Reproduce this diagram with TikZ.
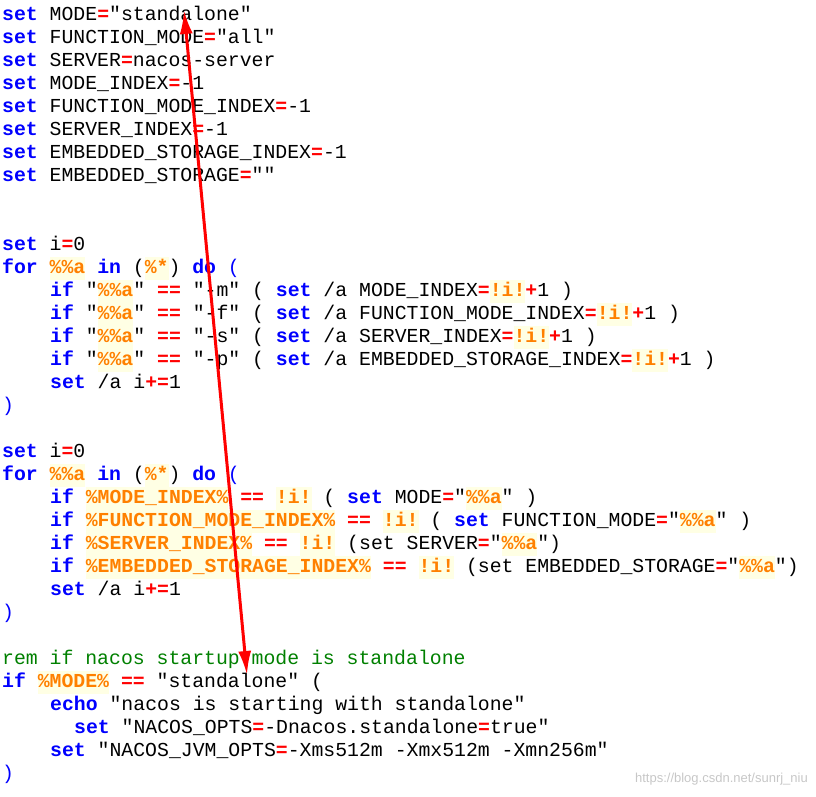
\documentclass[tikz,border=0pt]{standalone}
\usepackage{fontspec}
\usetikzlibrary{arrows.meta}
\newfontfamily\cf{Liberation Mono}
\definecolor{kwblue}{RGB}{0,0,255}
\definecolor{opred}{RGB}{255,0,0}
\definecolor{varor}{RGB}{255,128,0}
\definecolor{hlbg}{RGB}{255,255,228}
\definecolor{cmgreen}{RGB}{0,128,0}
\newcommand\K[1]{{\bfseries\color{kwblue}#1}}
\newcommand\Pb[1]{{\color{kwblue}#1}}
\newcommand\R[1]{{\bfseries\color{opred}#1}}
\newcommand\V[1]{{\fboxsep=0pt\colorbox{hlbg}{\strut\bfseries\color{varor}#1}}}
\begin{document}
\begin{tikzpicture}[x=1pt,y=-1pt,
  cl/.style={anchor=base west,inner sep=0pt,font=\cf\fontsize{19.8}{23}\selectfont}]
\useasboundingbox (0,0) rectangle (816,796);
\node[cl] (l1) at (2,20) {\K{set} MODE\R{=}"standalone"};
\node[cl] (l2) at (2,43) {\K{set} FUNCTION\_MODE\R{=}"all"};
\node[cl] (l3) at (2,66) {\K{set} SERVER\R{=}nacos-server};
\node[cl] (l4) at (2,89) {\K{set} MODE\_INDEX\R{=}-1};
\node[cl] (l5) at (2,112) {\K{set} FUNCTION\_MODE\_INDEX\R{=}-1};
\node[cl] (l6) at (2,135) {\K{set} SERVER\_INDEX\R{=}-1};
\node[cl] (l7) at (2,158) {\K{set} EMBEDDED\_STORAGE\_INDEX\R{=}-1};
\node[cl] (l8) at (2,181) {\K{set} EMBEDDED\_STORAGE\R{=}""};
\node[cl] (l9) at (2,250) {\K{set} i\R{=}0};
\node[cl] (l10) at (2,273) {\K{for} \V{\%\%a} \K{in} (\V{\%*}) \K{do} \Pb{(}};
\node[cl] (l11) at (50,296) {\K{if} "\V{\%\%a}" \R{==} "-m" ( \K{set} /a MODE\_INDEX\R{=}\V{!i!}\R{+}1 )};
\node[cl] (l12) at (50,319) {\K{if} "\V{\%\%a}" \R{==} "-f" ( \K{set} /a FUNCTION\_MODE\_INDEX\R{=}\V{!i!}\R{+}1 )};
\node[cl] (l13) at (50,342) {\K{if} "\V{\%\%a}" \R{==} "-s" ( \K{set} /a SERVER\_INDEX\R{=}\V{!i!}\R{+}1 )};
\node[cl] (l14) at (50,365) {\K{if} "\V{\%\%a}" \R{==} "-p" ( \K{set} /a EMBEDDED\_STORAGE\_INDEX\R{=}\V{!i!}\R{+}1 )};
\node[cl] (l15) at (50,388) {\K{set} /a i\R{+=}1};
\node[cl] (l16) at (2,411) {\Pb{)}};
\node[cl] (l17) at (2,457) {\K{set} i\R{=}0};
\node[cl] (l18) at (2,480) {\K{for} \V{\%\%a} \K{in} (\V{\%*}) \K{do} \Pb{(}};
\node[cl] (l19) at (50,503) {\K{if} \V{\%MODE\_INDEX\%} \R{==} \V{!i!} ( \K{set} MODE\R{=}"\V{\%\%a}" )};
\node[cl] (l20) at (50,526) {\K{if} \V{\%FUNCTION\_MODE\_INDEX\%} \R{==} \V{!i!} ( \K{set} FUNCTION\_MODE\R{=}"\V{\%\%a}" )};
\node[cl] (l21) at (50,549) {\K{if} \V{\%SERVER\_INDEX\%} \R{==} \V{!i!} (set SERVER\R{=}"\V{\%\%a}")};
\node[cl] (l22) at (50,572) {\K{if} \V{\%EMBEDDED\_STORAGE\_INDEX\%} \R{==} \V{!i!} (set EMBEDDED\_STORAGE\R{=}"\V{\%\%a}")};
\node[cl] (l23) at (50,595) {\K{set} /a i\R{+=}1};
\node[cl] (l24) at (2,618) {\Pb{)}};
\node[cl] (l25) at (2,664) {\color{cmgreen}rem if nacos startup mode is standalone};
\node[cl] (l26) at (2,687) {\K{if} \V{\%MODE\%} \R{==} "standalone" (};
\node[cl] (l27) at (50,710) {\K{echo} "nacos is starting with standalone"};
\node[cl] (l28) at (74,733) {\K{set} "NACOS\_OPTS\R{=}-Dnacos.standalone\R{=}true"};
\node[cl] (l29) at (50,756) {\K{set} "NACOS\_JVM\_OPTS\R{=}-Xms512m -Xmx512m -Xmn256m"};
\node[cl] (l30) at (2,779) {\Pb{)}};
\node[anchor=base east,inner sep=0pt,text=black!22,font=\fontspec{Liberation Sans}\fontsize{13}{15}\selectfont] (wm) at (808,782) {https://blog.csdn.net/sunrj\_niu};
\coordinate (atop) at (184,10);
\coordinate (abot) at (247,675);
\draw[opred,line width=3pt,{Latex[length=24pt,width=13pt]}-{Latex[length=24pt,width=13pt]}] (atop) -- (abot);
\end{tikzpicture}
\end{document}
